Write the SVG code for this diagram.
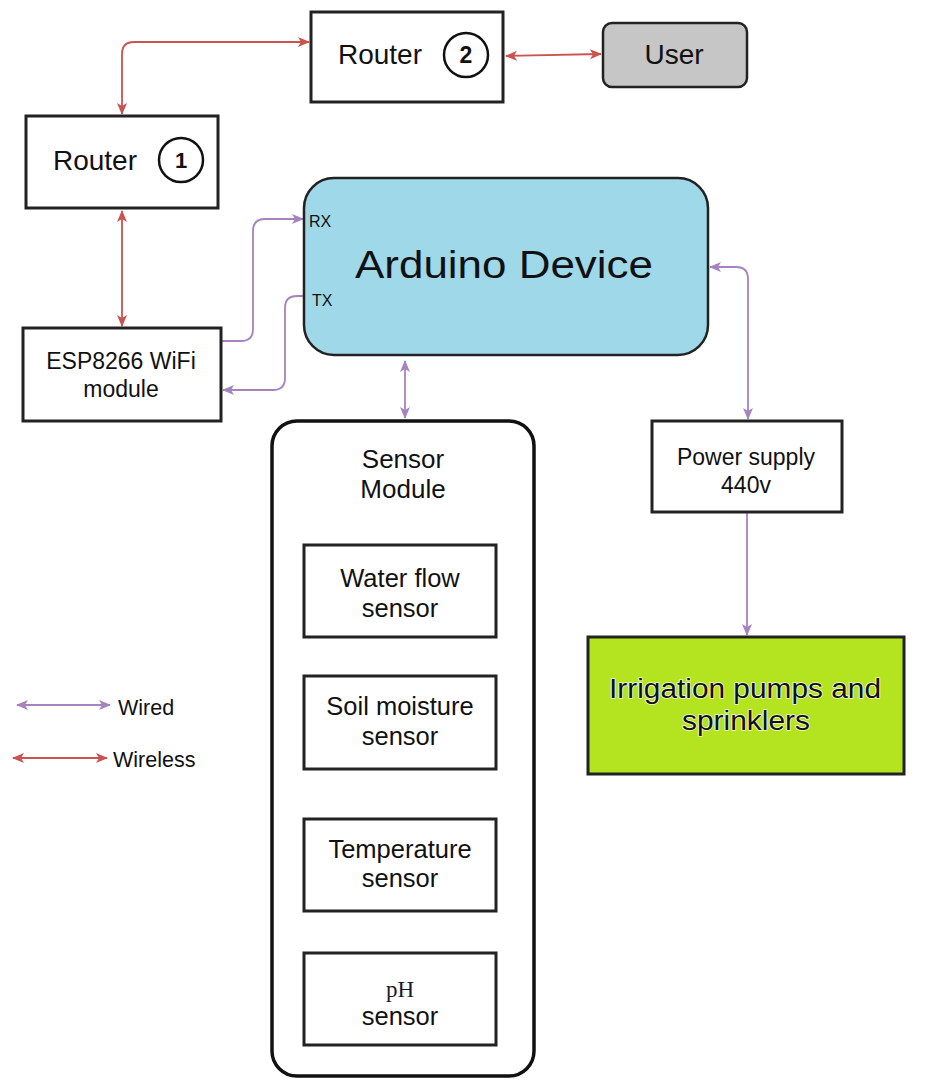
<svg xmlns="http://www.w3.org/2000/svg" width="927" height="1083" viewBox="0 0 927 1083">
<style>
.box{fill:#fff;stroke:#222;stroke-width:3}
.t{font-family:"Liberation Sans",Arial,sans-serif;fill:#111;text-anchor:middle}
.wl{fill:none;stroke:#c9534f;stroke-width:1.8}
.wd{fill:none;stroke:#a583c0;stroke-width:1.8}
.halo{stroke:#f4f8e0;stroke-width:1.6;paint-order:stroke;stroke-linejoin:round}
</style>
<defs>
<marker id="ar" viewBox="0 0 12 10" refX="11" refY="5" markerWidth="12" markerHeight="10" markerUnits="userSpaceOnUse" orient="auto-start-reverse">
<path d="M0,0 L12,5 L0,10 L3,5 Z" fill="#c9534f"/>
</marker>
<marker id="ap" viewBox="0 0 12 10" refX="11" refY="5" markerWidth="12" markerHeight="10" markerUnits="userSpaceOnUse" orient="auto-start-reverse">
<path d="M0,0 L12,5 L0,10 L3,5 Z" fill="#a583c0"/>
</marker>
</defs>
<rect width="927" height="1083" fill="#fff"/>
<g id="connectors">
<path class="wl" d="M122,114 V54 Q122,42 134,42 H309" marker-start="url(#ar)" marker-end="url(#ar)"/>
<path class="wl" d="M506,56 L601,54" marker-start="url(#ar)" marker-end="url(#ar)"/>
<path class="wl" d="M122,211 V326" marker-start="url(#ar)" marker-end="url(#ar)"/>
<path class="wd" d="M221,341 H241 Q253,341 253,329 V231 Q253,219 265,219 H303" marker-end="url(#ap)"/>
<path class="wd" d="M304,296 H297 Q285,296 285,308 V378 Q285,390 273,390 H223" marker-end="url(#ap)"/>
<path class="wd" d="M405,361 V418" marker-start="url(#ap)" marker-end="url(#ap)"/>
<path class="wd" d="M710,267 H736 Q748,267 748,279 V419" marker-start="url(#ap)" marker-end="url(#ap)"/>
<path class="wd" d="M747,513 V635" marker-end="url(#ap)"/>
<path class="wd" d="M17,705 H110" marker-start="url(#ap)" marker-end="url(#ap)"/>
<path class="wl" d="M13,758 H107" marker-start="url(#ar)" marker-end="url(#ar)"/>
</g>
<g id="router2">
<rect class="box" x="311" y="12" width="192" height="90"/>
<text class="t" x="380" y="64" font-size="28">Router</text>
<circle cx="466" cy="55" r="22" fill="#fff" stroke="#111" stroke-width="2.5"/>
<text class="t" x="466" y="63" font-size="23" font-weight="bold">2</text>
</g>
<g id="user">
<rect x="603" y="23" width="144" height="64" rx="9" fill="#c6c6c6" stroke="#222" stroke-width="2.5"/>
<text class="t" x="674" y="64" font-size="28">User</text>
</g>
<g id="router1">
<rect class="box" x="26" y="116" width="192" height="92"/>
<text class="t" x="95" y="170" font-size="28">Router</text>
<circle cx="181" cy="160" r="22" fill="#fff" stroke="#111" stroke-width="2.5"/>
<text class="t" x="181" y="168" font-size="22" font-weight="bold">1</text>
</g>
<g id="arduino">
<rect x="304" y="178" width="404" height="177" rx="30" fill="#9fd8e9" stroke="#222" stroke-width="2.5"/>
<text class="t" x="504" y="278" font-size="38" textLength="298" lengthAdjust="spacingAndGlyphs">Arduino Device</text>
<text x="309" y="227" font-size="16" font-family="'Liberation Sans',Arial,sans-serif" fill="#111">RX</text>
<text x="312" y="306" font-size="16" font-family="'Liberation Sans',Arial,sans-serif" fill="#111">TX</text>
</g>
<g id="esp8266">
<rect class="box" x="23" y="328" width="198" height="93"/>
<text class="t" x="121" y="369" font-size="23">ESP8266 WiFi</text>
<text class="t" x="121" y="397" font-size="23">module</text>
</g>
<g id="sensor-module">
<rect x="272" y="421" width="262" height="655" rx="25" fill="#fff" stroke="#111" stroke-width="3.5"/>
<text class="t" x="403" y="468" font-size="26">Sensor</text>
<text class="t" x="403" y="498" font-size="26">Module</text>
</g>
<g id="water-flow">
<rect class="box" x="304" y="545" width="192" height="92"/>
<text class="t" x="400" y="587" font-size="25.5">Water flow</text>
<text class="t" x="400" y="617" font-size="25.5">sensor</text>
</g>
<g id="soil-moisture">
<rect class="box" x="304" y="676" width="192" height="93"/>
<text class="t" x="400" y="715" font-size="25.5">Soil moisture</text>
<text class="t" x="400" y="745" font-size="25.5">sensor</text>
</g>
<g id="temperature">
<rect class="box" x="304" y="819" width="192" height="92"/>
<text class="t" x="400" y="858" font-size="25.5">Temperature</text>
<text class="t" x="400" y="887" font-size="25.5">sensor</text>
</g>
<g id="ph">
<rect class="box" x="304" y="953" width="192" height="92"/>
<text x="400" y="997" font-size="23" text-anchor="middle" font-family="'Liberation Serif','Times New Roman',serif" fill="#1a1a2e">pH</text>
<text class="t" x="400" y="1025" font-size="25.5">sensor</text>
</g>
<g id="power-supply">
<rect class="box" x="652" y="421" width="190" height="91"/>
<text class="t" x="746" y="465" font-size="23">Power supply</text>
<text class="t" x="746" y="493" font-size="23">440v</text>
</g>
<g id="irrigation">
<rect x="588" y="637" width="316" height="137" fill="#b4e31f" stroke="#222" stroke-width="3"/>
<text class="t halo" x="745" y="698" font-size="27" textLength="272" lengthAdjust="spacingAndGlyphs">Irrigation pumps and</text>
<text class="t halo" x="746" y="730" font-size="27" textLength="128" lengthAdjust="spacingAndGlyphs">sprinklers</text>
</g>
<g id="legend">
<text x="118" y="715" font-size="21.5" font-family="'Liberation Sans',Arial,sans-serif" fill="#111">Wired</text>
<text x="113" y="767" font-size="21.5" font-family="'Liberation Sans',Arial,sans-serif" fill="#111">Wireless</text>
</g>
</svg>
